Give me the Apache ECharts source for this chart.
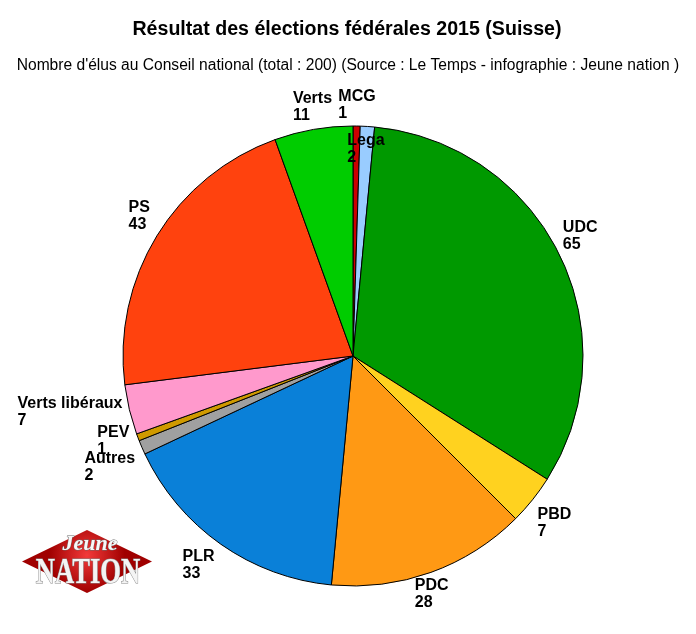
<!DOCTYPE html>
<html>
<head>
<meta charset="utf-8">
<script src="https://cdn.jsdelivr.net/npm/echarts@6/dist/echarts.min.js"></script>
<style>
html,body{margin:0;padding:0;background:#fff;}
#c{width:696px;height:634px;}
</style>
</head>
<body>
<div id="c"></div>
<script>
const parties = ["MCG", "Lega", "UDC", "PBD", "PDC", "PLR", "Autres", "PEV", "Verts libéraux", "PS", "Verts"];
const seats   = [1, 2, 65, 7, 28, 33, 2, 1, 7, 43, 11];
const colors  = ["#CC0000", "#99CCFF", "#009900", "#FFD21F", "#FF9914", "#0A80D8", "#A0A0A0", "#D09A00", "#FF99CC", "#FF420E", "#00CC00"];
// label repel offsets (layout only), px
const labelNudge = [[0, 2], [-3, 46], [0, -9], [4, 9], [-7, 0], [-9, 2], [-11, 11], [-3, -4], [-37, -3], [2, -8], [3, 0]];

const CX = 353, CY = 356, R = 230, LR = 1.1 * R;
const total = seats.reduce((a, b) => a + b, 0);
const cumBefore = seats.map((v, i) => seats.slice(0, i).reduce((a, b) => a + b, 0));

const chart = echarts.init(document.getElementById('c'), null, {renderer: 'canvas'});
const option = {
  animation: false,
  backgroundColor: '#ffffff',
  title: [{
    text: 'Résultat des élections fédérales 2015 (Suisse)',
    left: 342, top: 15, textAlign: 'center',
    textStyle: {fontFamily: 'Liberation Sans', fontWeight: 'bold', fontSize: 19.6, color: '#000'}
  }, {
    text: "Nombre d'élus au Conseil national (total : 200) (Source : Le Temps - infographie : Jeune nation )",
    left: 343, top: 53, textAlign: 'center',
    textStyle: {fontFamily: 'Liberation Sans', fontWeight: 'normal', fontSize: 15.6, color: '#000'}
  }],
  series: [{
    type: 'pie',
    center: [CX, CY],
    radius: R,
    startAngle: 90,
    clockwise: true,
    data: parties.map((p, i) => ({name: p, value: seats[i], itemStyle: {color: colors[i]}})),
    itemStyle: {borderColor: '#000', borderWidth: 1},
    emphasis: {disabled: true},
    label: {
      show: true,
      position: 'outside',
      overflow: 'none',
      distanceToLabelLine: 0,
      formatter: p => '{n|' + p.name + '}\n{n|' + p.value + '}',
      rich: {n: {align: 'left', fontFamily: 'Liberation Sans', fontWeight: 'bold', fontSize: 16, lineHeight: 17, color: '#000'}}
    },
    labelLine: {show: false, length: 10, length2: 0},
    labelLayout: params => {
      const i = params.dataIndex;
      const a = (cumBefore[i] + seats[i] / 2) / total * 2 * Math.PI;
      return {
        x: CX + LR * Math.sin(a) + labelNudge[i][0],
        y: CY - LR * Math.cos(a) + labelNudge[i][1],
        align: 'center',
        verticalAlign: 'middle'
      };
    }
  }],
  graphic: [{
    type: 'group', left: 22, top: 530,
    children: [
      {type: 'polygon', shape: {points: [[0, 31.5], [65, 0], [130, 31.5], [65, 63]]},
       style: {fill: {type: 'radial', x: 0.5, y: 0.4, r: 0.6, colorStops: [{offset: 0, color: '#F23A3A'}, {offset: 1, color: '#A00000'}]}}},
      {type: 'text', x: 68, y: 3, style: {text: 'Jeune', fontFamily: 'Liberation Serif', fontStyle: 'italic', fontWeight: 'bold', fontSize: 22, fill: '#f8f8f8', stroke: '#6a6a6a', lineWidth: 0.8, align: 'center'}},
      {type: 'text', x: 66, y: 26, scaleX: 0.76, style: {text: 'NATION', fontFamily: 'Liberation Serif', fontWeight: 'bold', fontSize: 35, fill: '#f4f4f4', stroke: '#8a8a8a', lineWidth: 1.2, align: 'center'}}
    ]
  }]
};
chart.setOption(option);
</script>
</body>
</html>
